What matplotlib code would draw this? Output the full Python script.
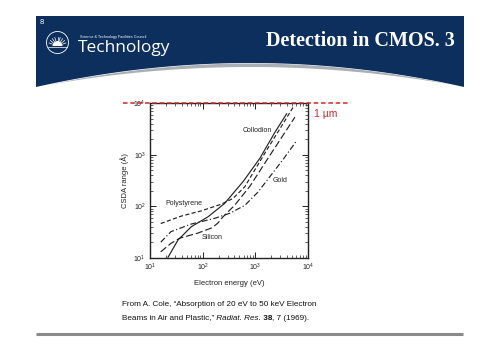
import numpy as np
import matplotlib
matplotlib.use('Agg')
import matplotlib.pyplot as plt
from matplotlib.patches import Circle, Wedge

plt.rcParams['font.family'] = ['Liberation Sans', 'DejaVu Sans']

# CSDA range curves (energy in eV, range in Angstrom)
collodion_e = [22, 34, 61, 126, 261, 594, 1220, 2350, 3930]
collodion_r = [10.2, 22, 40, 62, 113, 305, 850, 2700, 6210]

polystyrene_e = [16, 39, 94, 225, 376, 627, 1510, 2800, 5240]
polystyrene_r = [46, 64, 81, 109, 141, 236, 1060, 2950, 8340]

silicon_e = [16, 25, 37, 81, 150, 195, 243, 405, 790, 1890, 5640]
silicon_r = [13, 19, 24, 30, 38, 47, 62, 104, 244, 968, 5330]

gold_e = [16, 25, 61, 169, 330, 635, 1120, 1980, 3490, 6150]
gold_r = [20, 32, 45, 58, 73, 104, 187, 398, 848, 1890]

one_micron = 1e4  # Angstrom

labels = {
    'Collodion': (1070, 2950),
    'Polystyrene': (44, 112),
    'Silicon': (150, 25),
    'Gold': (2900, 320),
}

fig = plt.figure(figsize=(5, 3.53), dpi=100)

# slide background in pixel coordinates
bg = fig.add_axes([0, 0, 1, 1])
bg.set_xlim(0, 500)
bg.set_ylim(353, 0)
bg.axis('off')

xs = np.linspace(36, 464, 300)
ybot = 63 + 24 * ((xs - 250) / 214) ** 2
bg.fill(np.r_[xs, xs[::-1]], np.r_[np.full_like(xs, 16), ybot[::-1]],
        color='#0c2f5d', lw=0)
sw = np.clip(1 - ((xs - 250) / 200) ** 2, 0, None) * 3.5
bg.fill_between(xs, ybot, ybot + sw, color='#a9afb4', lw=0)

# logo
bg.add_patch(Circle((57.5, 42.5), 11, fill=False, ec='white', lw=0.6))
bg.add_patch(Wedge((57.5, 46), 5, 180, 360, color='white', lw=0))
for a in np.linspace(200, 340, 9):
    t = np.deg2rad(a)
    bg.plot([57.5 + 5.5 * np.cos(t), 57.5 + 9 * np.cos(t)],
            [46 + 5.5 * np.sin(t), 46 + 9 * np.sin(t)], color='white', lw=0.5)
bg.plot([48, 67], [46.5, 46.5], color='white', lw=0.5)
bg.text(80, 37, 'Science & Technology Facilities Council', color='white',
        fontsize=2.7, va='center')
bg.text(78, 48, 'Technology', color='white', fontsize=12.5,
        family='Open Sans', va='center')
bg.text(40, 23, '8', color='white', fontsize=5.5, va='center')
bg.text(455, 41, 'Detection in CMOS. 3', color='white', fontsize=14.5,
        family='Liberation Serif', weight='bold', ha='right', va='center')

# caption
fs = 5.9
bg.text(122, 305, 'From A. Cole, \u201cAbsorption of 20 eV to 50 keV Electron',
        fontsize=fs, va='center', color='#111')
c1 = bg.text(122, 318, 'Beams in Air and Plastic,\u201d', fontsize=fs,
             va='center', color='#111')
c2 = bg.annotate(' Radiat. Res.', xy=(1, 0), xycoords=c1, va='bottom',
                 fontsize=fs, style='italic', color='#111')
c3 = bg.annotate(' 38', xy=(1, 0), xycoords=c2, va='bottom',
                 fontsize=fs, weight='bold', color='#111')
bg.annotate(', 7 (1969).', xy=(1, 0), xycoords=c3, va='bottom',
            fontsize=fs, color='#111')

bg.plot([36, 463], [334, 334], color='#8a8a8a', lw=2.2, solid_capstyle='butt')

# chart
ax = fig.add_axes([0.300, 0.270, 0.316, 0.438])
ax.set_xscale('log')
ax.set_yscale('log')
ink = '#222222'
ax.plot(collodion_e, collodion_r, color=ink, lw=0.85)
ax.plot(polystyrene_e, polystyrene_r, color=ink, lw=0.85, dashes=(3.5, 2))
ax.plot(silicon_e, silicon_r, color=ink, lw=0.85, dashes=(6, 2.5))
ax.plot(gold_e, gold_r, color=ink, lw=0.85, dashes=(5, 2, 1, 2))
ax.set_xlim(10, 1e4)
ax.set_ylim(10, 1e4)

for name, (x, y) in labels.items():
    ax.text(x, y, name, fontsize=5, ha='center', va='center', color=ink)

ax.set_xlabel('Electron energy (eV)', fontsize=5.5, labelpad=5, color=ink)
ax.set_ylabel('CSDA range (\u00c5)', fontsize=5.5, labelpad=3, color=ink)
ax.tick_params(which='both', direction='in', top=True, right=True,
               labelsize=5, colors=ink, pad=3)
ax.tick_params(which='major', length=4, width=0.7)
ax.tick_params(which='minor', length=2, width=0.5)
for s in ax.spines.values():
    s.set_linewidth(1.0)
    s.set_color(ink)

ax.axhline(one_micron, xmin=-0.171, xmax=1.253, clip_on=False,
           color='#cc2a2a', lw=1.1, dashes=(3, 1.8), zorder=5)
ax.text(1.04, 0.93, '1 \u00b5m', transform=ax.transAxes, fontsize=7.5,
        color='#cc2a2a', va='center')

fig.savefig('out.png', dpi=100)
